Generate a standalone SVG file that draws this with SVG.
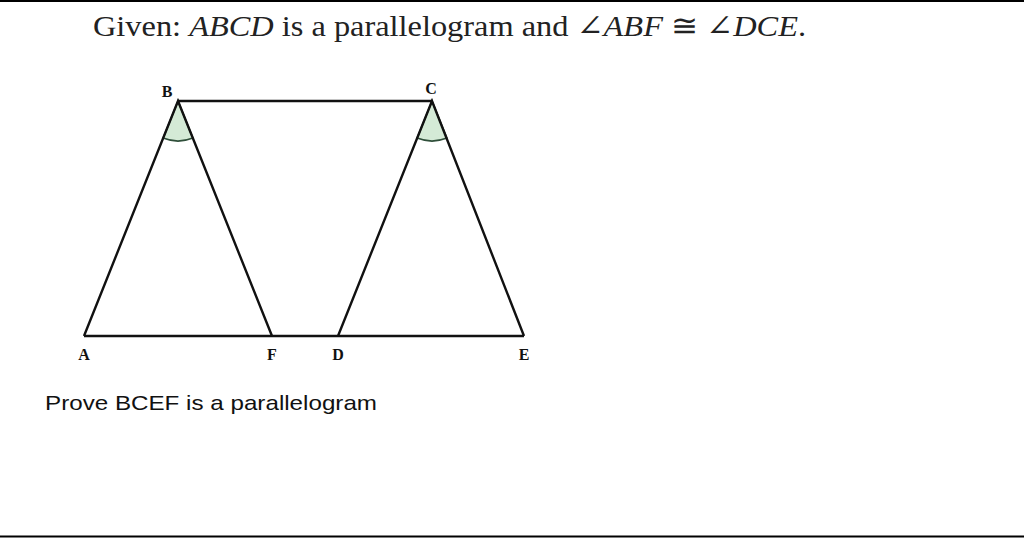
<svg xmlns="http://www.w3.org/2000/svg" width="1024" height="538" viewBox="0 0 1024 538">
<style>
.ln{stroke:#111;stroke-width:2.4;fill:none;stroke-linejoin:miter}
.arc{fill:#d4ead6;stroke:#2f4f3a;stroke-width:1.6}
.lbl{font-family:"Liberation Serif","DejaVu Serif",serif;font-weight:bold;font-size:16px;fill:#111;text-anchor:middle}
.ttl{font-family:"Liberation Serif","DejaVu Serif",serif;font-size:30px;fill:#222}
.it{font-style:italic}
.sub{font-family:"Liberation Sans",Arial,sans-serif;font-size:21px;fill:#111}
</style>
<rect width="1024" height="538" fill="#fff"/>
<line x1="0" y1="1" x2="1024" y2="1" stroke="#000" stroke-width="2"/>
<line x1="0" y1="536.5" x2="1024" y2="536.5" stroke="#000" stroke-width="2"/>
<text class="ttl" x="93" y="36" textLength="713" lengthAdjust="spacingAndGlyphs">Given: <tspan class="it">ABCD</tspan> is a parallelogram and ∠<tspan class="it">ABF</tspan> ≅  ∠<tspan class="it">DCE</tspan>.</text>
<g id="angles">
<path class="arc" d="M178,101 L163.1,138.1 A40,40 0 0 0 192.9,138.1 Z"/>
<path class="arc" d="M432,101 L417.1,138.1 A40,40 0 0 0 446.9,138.1 Z"/>
</g>
<g id="connectors">
<polyline class="ln" points="84,336 178,101 272,336"/>
<line class="ln" x1="178" y1="101" x2="432" y2="101"/>
<polyline class="ln" points="338,336 432,101 524,336"/>
<line class="ln" x1="84" y1="336" x2="524" y2="336"/>
</g>
<g id="node-B"><text class="lbl" x="167" y="97">B</text></g>
<g id="node-C"><text class="lbl" x="431" y="94">C</text></g>
<g id="node-A"><text class="lbl" x="84" y="360">A</text></g>
<g id="node-F"><text class="lbl" x="272" y="360">F</text></g>
<g id="node-D"><text class="lbl" x="338" y="360">D</text></g>
<g id="node-E"><text class="lbl" x="524" y="360">E</text></g>
<text class="sub" x="45" y="410" textLength="332" lengthAdjust="spacingAndGlyphs">Prove BCEF is a parallelogram</text>
</svg>
